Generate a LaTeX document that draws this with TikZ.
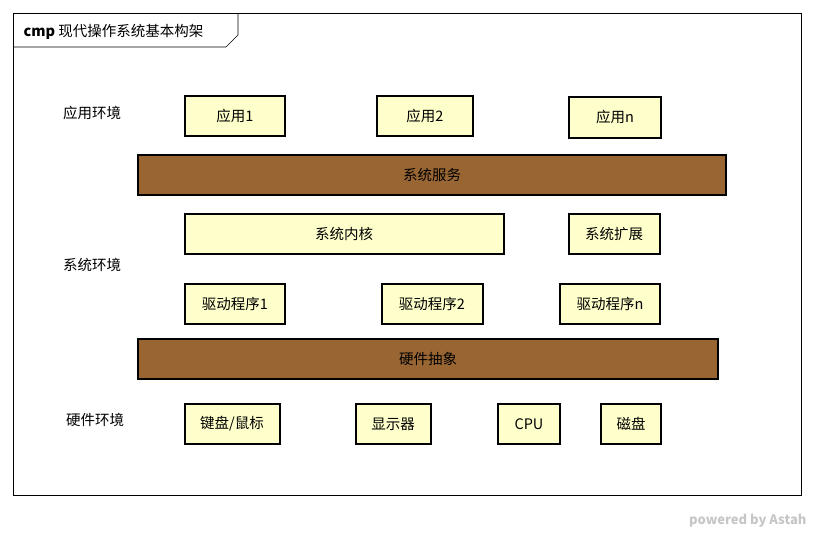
\documentclass[tikz,border=0pt]{standalone}
\usepackage{fontspec}
\setmainfont{Noto Sans CJK SC}
\begin{document}
\begin{tikzpicture}[x=1pt,y=-1pt,
  lbl/.style={font=\fontsize{14.5}{16}\selectfont},
  bx/.style={line width=1.6pt,draw=black}]
\definecolor{lay}{HTML}{996633}
\definecolor{cy}{HTML}{FFFFCC}
\useasboundingbox (0,0) rectangle (814,534);
\draw[line width=0.6pt] (13,13) rectangle (801,495);
\draw[line width=0.6pt] (13,47) -- (226,47) -- (238,35) -- (238,13);
\node[anchor=west,font=\fontsize{14.5}{16}\selectfont] (title) at (20,32) {\textbf{cmp} 现代操作系统基本构架};
\foreach \xa/\ya/\xb/\yb in {185/96/285/136, 377/96/473/136, 569/97/661/138,
  185/214/504/254, 569/214/660/254,
  185/284/285/324, 382/284/483/324, 560/284/660/324,
  185/404/280/444, 356/404/431/444, 498/404/560/444, 601/404/661/444}
{\draw[bx,fill=cy] (\xa,\ya) rectangle (\xb,\yb);}
\node[lbl] (a1) at (235,116) {应用1};
\node[lbl] (a2) at (425,116) {应用2};
\node[lbl] (an) at (615,117) {应用n};
\node[lbl] (k) at (344,234) {系统内核};
\node[lbl] (ext) at (614,234) {系统扩展};
\node[lbl] (d1) at (235,304) {驱动程序1};
\node[lbl] (d2) at (432,304) {驱动程序2};
\node[lbl] (dn) at (610,304) {驱动程序n};
\node[lbl] (kb) at (232,424) {键盘/鼠标};
\node[lbl] (disp) at (393,424) {显示器};
\node[lbl] (cpu) at (529,424) {CPU};
\node[lbl] (disk) at (631,424) {磁盘};
\draw[bx,fill=lay] (138,155) rectangle (726,195);
\node[lbl] (svc) at (432,175) {系统服务};
\draw[bx,fill=lay] (138,339) rectangle (718,379);
\node[lbl] (hal) at (428,359) {硬件抽象};
\node[lbl] (e1) at (92,113) {应用环境};
\node[lbl] (e2) at (92,265) {系统环境};
\node[lbl] (e3) at (95,420) {硬件环境};
\node[font=\fontsize{13}{15}\selectfont\bfseries,text=gray!45,anchor=east] (wm) at (810,521) {powered by Astah};
\end{tikzpicture}
\end{document}
